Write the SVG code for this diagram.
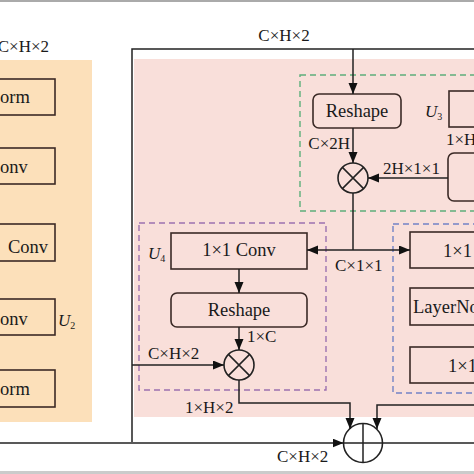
<svg xmlns="http://www.w3.org/2000/svg" width="474" height="474" viewBox="0 0 474 474">
<style>
text{font-family:"Liberation Serif","Times New Roman",serif;fill:#1a1a1a}
.lbl{font-size:17px}
.bt{font-size:18.5px}
.u{font-size:17px;font-style:italic}
.sub{font-size:10px;font-style:normal}
.box{stroke:#3b2a26;stroke-width:1.6}
.ln{stroke:#222;stroke-width:1.5;fill:none}
.arr{marker-end:url(#ah)}
</style>
<defs>
<marker id="ah" markerUnits="userSpaceOnUse" markerWidth="12" markerHeight="10" refX="11" refY="4.5" orient="auto">
<path d="M0,0 L11,4.5 L0,9 z" fill="#111"/>
</marker>
</defs>
<rect x="0" y="0" width="474" height="474" fill="#fff"/>
<rect x="0" y="0" width="474" height="2" fill="#aaa"/>
<rect x="0" y="471" width="474" height="3" fill="#cbcbcb"/>

<g id="left-panel">
<rect x="0" y="60" width="92" height="362" fill="#FCE0BA"/>
<text class="lbl" x="49" y="52" text-anchor="end">C×H×2</text>
</g>
<g id="left-box-1"><rect class="box" x="-10" y="79" width="65" height="36" fill="#FCE0BA"/><text class="bt" x="0" y="103">orm</text></g>
<g id="left-box-2"><rect class="box" x="-10" y="148" width="65" height="36" fill="#FCE0BA"/><text class="bt" x="0" y="173">onv</text></g>
<g id="left-box-3"><rect class="box" x="-10" y="224" width="65" height="37" fill="#FCE0BA"/><text class="bt" x="48" y="253" text-anchor="end" font-size="19.5">Conv</text></g>
<g id="left-box-4"><rect class="box" x="-10" y="299" width="65" height="36" fill="#FCE0BA"/><text class="bt" x="0" y="325">onv</text></g>
<g id="left-box-5"><rect class="box" x="-10" y="370" width="65" height="37" fill="#FCE0BA"/><text class="bt" x="0" y="395">orm</text></g>
<g id="label-U2"><text class="u" x="58" y="326">U<tspan class="sub" dy="3">2</tspan></text></g>

<g id="main-panel">
<rect x="134" y="59" width="340" height="358" fill="#F9DFDA"/>
<rect x="300" y="75" width="200" height="136" fill="none" stroke="#5DAF7B" stroke-width="1.4" stroke-dasharray="6,4"/>
<rect x="139" y="223" width="187" height="167" fill="none" stroke="#9C72B0" stroke-width="1.4" stroke-dasharray="6,4"/>
<rect x="393" y="224" width="120" height="169" fill="none" stroke="#7383C6" stroke-width="1.4" stroke-dasharray="6,4"/>
</g>

<g id="reshape-top"><rect class="box" x="313" y="94" width="88" height="34" rx="6" fill="#F9DFDA"/><text class="bt" x="357" y="117" text-anchor="middle">Reshape</text></g>
<g id="label-U3"><text class="u" x="425" y="117">U<tspan class="sub" dy="3">3</tspan></text></g>
<g id="u3-box-top"><rect class="box" x="449" y="91" width="40" height="36" fill="#F9DFDA"/></g>
<g id="u3-box-bottom"><rect class="box" x="448" y="153" width="40" height="48" rx="6" fill="#F9DFDA"/></g>
<g id="mul-top"><circle cx="353" cy="178" r="15" fill="#F9DFDA" stroke="#222" stroke-width="1.6"/><path class="ln" d="M342.4,167.4 L363.6,188.6 M363.6,167.4 L342.4,188.6"/></g>

<g id="label-U4"><text class="u" x="148" y="259">U<tspan class="sub" dy="3">4</tspan></text></g>
<g id="conv-u4"><rect class="box" x="171" y="233" width="136" height="36" fill="#F9DFDA"/><text class="bt" x="239" y="256" text-anchor="middle">1×1 Conv</text></g>
<g id="reshape-u4"><rect class="box" x="171" y="293" width="136" height="34" rx="6" fill="#F9DFDA"/><text class="bt" x="239" y="316" text-anchor="middle">Reshape</text></g>
<g id="mul-u4"><circle cx="239" cy="365" r="15" fill="#F9DFDA" stroke="#222" stroke-width="1.6"/><path class="ln" d="M228.4,354.4 L249.6,375.6 M249.6,354.4 L228.4,375.6"/></g>

<g id="right-box-1"><rect class="box" x="410" y="232" width="80" height="36" fill="#F9DFDA"/><text class="bt" x="443" y="257">1×1</text></g>
<g id="right-box-2"><rect class="box" x="410" y="288" width="80" height="37" fill="#F9DFDA"/><text class="bt" x="413" y="313">LayerNorm</text></g>
<g id="right-box-3"><rect class="box" x="410" y="347" width="80" height="36" fill="#F9DFDA"/><text class="bt" x="448" y="372">1×1</text></g>

<g id="add"><circle cx="363" cy="443" r="19.5" fill="#fff" stroke="#222" stroke-width="1.6"/><path class="ln" d="M363,423.5 V462.5 M343.5,443 H382.5"/></g>

<g id="connectors">
<path class="ln" d="M132,442 V49 H474"/>
<path class="ln arr" d="M353,49 V94"/>
<path class="ln arr" d="M353,128 V163"/>
<path class="ln arr" d="M448,178 H368"/>
<path class="ln" d="M353,193 V250"/>
<path class="ln arr" d="M353,250 H307"/>
<path class="ln arr" d="M353,250 H410"/>
<path class="ln arr" d="M239,269 V293"/>
<path class="ln arr" d="M239,327 V350"/>
<path class="ln arr" d="M132,365 H224"/>
<path class="ln arr" d="M239,380 V403 H350 V429"/>
<path class="ln arr" d="M474,405 H377 V429"/>
<path class="ln arr" d="M0,443 H343.5"/>
<path class="ln" d="M382.5,443 H474"/>
</g>

<g id="labels">
<text class="lbl" x="284" y="41" text-anchor="middle">C×H×2</text>
<text class="lbl" x="350" y="149" text-anchor="end">C×2H</text>
<text class="lbl" x="446" y="145">1×H</text>
<text class="lbl" x="383" y="174">2H×1×1</text>
<text class="lbl" x="335" y="271">C×1×1</text>
<text class="lbl" x="247" y="342">1×C</text>
<text class="lbl" x="148" y="359">C×H×2</text>
<text class="lbl" x="185" y="413">1×H×2</text>
<text class="lbl" x="277" y="462">C×H×2</text>
</g>
</svg>
